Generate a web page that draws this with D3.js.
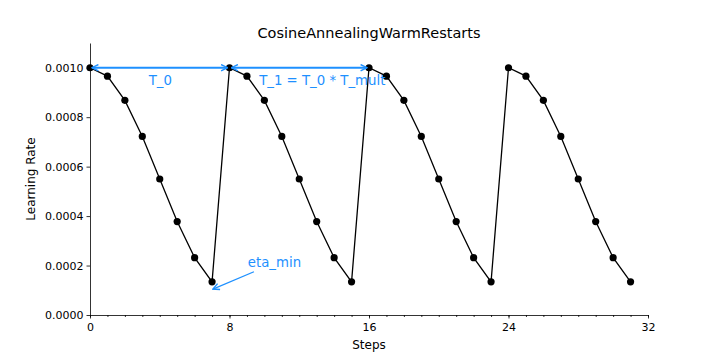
<!DOCTYPE html>
<html lang="en">
<head>
<meta charset="UTF-8">
<title>CosineAnnealingWarmRestarts</title>
<style>
  body { margin: 0; background: #fff; }
  svg text { font-family: "DejaVu Sans", sans-serif; }
</style>
</head>
<body>
<div id="chart"></div>
<script src="https://cdn.jsdelivr.net/npm/d3@7"></script>
<script>
// data
var steps = [0, 1, 2, 3, 4, 5, 6, 7, 8, 9, 10, 11, 12, 13, 14, 15,
             16, 17, 18, 19, 20, 21, 22, 23, 24, 25, 26, 27, 28, 29, 30, 31];
var lrValues = [0.001, 0.000966, 0.000868, 0.000722, 0.00055, 0.000378, 0.000232, 0.000134,
                0.001, 0.000966, 0.000868, 0.000722, 0.00055, 0.000378, 0.000232, 0.000134,
                0.001, 0.000966, 0.000868, 0.000722, 0.00055, 0.000378, 0.000232, 0.000134,
                0.001, 0.000966, 0.000868, 0.000722, 0.00055, 0.000378, 0.000232, 0.000134];
var xTicks = [0, 8, 16, 24, 32];
var yTicks = [0, 0.0002, 0.0004, 0.0006, 0.0008, 0.001];

var margin = {top: 43, right: 72, bottom: 45, left: 90},
    width = 720 - margin.left - margin.right,
    height = 360 - margin.top - margin.bottom;

var blue = "#1e90ff";

var svg = d3.select("#chart").append("svg")
    .attr("width", 720).attr("height", 360);

var defs = svg.append("defs");
// open chevron arrow head like matplotlib "<->" / "->"
defs.append("marker")
    .attr("id", "head")
    .attr("viewBox", "0 0 10 10")
    .attr("refX", 9).attr("refY", 5)
    .attr("markerWidth", 8).attr("markerHeight", 8)
    .attr("markerUnits", "userSpaceOnUse")
    .attr("orient", "auto-start-reverse")
  .append("path")
    .attr("d", "M1,1 L9,5 L1,9")
    .attr("fill", "none")
    .attr("stroke", blue)
    .attr("stroke-width", 1.8);

var g = svg.append("g")
    .attr("transform", "translate(" + margin.left + "," + margin.top + ")");

var x = d3.scaleLinear().domain([0, 32]).range([0, width]);
var y = d3.scaleLinear().domain([0, 0.0011]).range([height, 0]);

// x axis: minor ticks every step, majors every 8
var xAxis = g.append("g").attr("transform", "translate(0," + height + ")");
xAxis.call(d3.axisBottom(x).tickValues(d3.range(0, 33)).tickSize(2).tickFormat(""));
xAxis.call(function(s) { s.selectAll(".domain").remove(); });
var xMajor = g.append("g").attr("transform", "translate(0," + height + ")")
    .call(d3.axisBottom(x).tickValues(xTicks).tickSizeInner(3.5).tickSizeOuter(0).tickFormat(d3.format("d")));
xMajor.selectAll("text").attr("font-size", 11).attr("fill", "#000").attr("dy", "0.9em");

var yAxis = g.append("g")
    .call(d3.axisLeft(y).tickValues(yTicks).tickSizeInner(3.5).tickSizeOuter(0).tickFormat(d3.format(".4f")));
yAxis.selectAll("text").attr("font-size", 11).attr("fill", "#000");
svg.selectAll(".domain, .tick line").attr("stroke", "#000").attr("stroke-width", 0.8);

// labels
svg.append("text")
    .attr("x", margin.left + width / 2).attr("y", 349)
    .attr("text-anchor", "middle").attr("font-size", 12)
    .text("Steps");
svg.append("text")
    .attr("transform", "translate(35," + (margin.top + height / 2) + ") rotate(-90)")
    .attr("text-anchor", "middle").attr("font-size", 12)
    .text("Learning Rate");
svg.append("text")
    .attr("x", margin.left + width / 2).attr("y", 38)
    .attr("text-anchor", "middle").attr("font-size", 14.5)
    .text("CosineAnnealingWarmRestarts");

// line and dots
var pts = steps.map(function(s, i) { return {step: s, lr: lrValues[i]}; });
var line = d3.line()
    .x(function(d) { return x(d.step); })
    .y(function(d) { return y(d.lr); });
g.append("path")
    .datum(pts)
    .attr("d", line)
    .attr("fill", "none")
    .attr("stroke", "#000")
    .attr("stroke-width", 1.3);
g.selectAll("circle.dot")
    .data(pts)
  .enter().append("circle")
    .attr("class", "dot")
    .attr("cx", function(d) { return x(d.step); })
    .attr("cy", function(d) { return y(d.lr); })
    .attr("r", 3.6)
    .attr("fill", "#000");

// annotations
var spans = [[0, 8], [8, 16]];
g.selectAll("line.span")
    .data(spans)
  .enter().append("line")
    .attr("class", "span")
    .attr("x1", function(d) { return x(d[0]) + 2; })
    .attr("x2", function(d) { return x(d[1]) - 2; })
    .attr("y1", y(0.001)).attr("y2", y(0.001))
    .attr("stroke", blue).attr("stroke-width", 1.8)
    .attr("marker-start", "url(#head)")
    .attr("marker-end", "url(#head)");

g.append("text")
    .attr("x", x(3.37)).attr("y", y(0.00093))
    .attr("font-size", 13.3).attr("fill", blue)
    .text("T_0");
g.append("text")
    .attr("x", x(9.7)).attr("y", y(0.00093))
    .attr("font-size", 13.3).attr("fill", blue)
    .text("T_1 = T_0 * T_mult");

g.append("text")
    .attr("x", x(9.05)).attr("y", y(0.000195))
    .attr("font-size", 13.3).attr("fill", blue)
    .text("eta_min");
g.append("line")
    .attr("x1", x(9.4)).attr("y1", y(0.000175))
    .attr("x2", x(7.05)).attr("y2", y(0.000105))
    .attr("stroke", blue).attr("stroke-width", 1.3)
    .attr("marker-end", "url(#head)");
</script>
</body>
</html>
